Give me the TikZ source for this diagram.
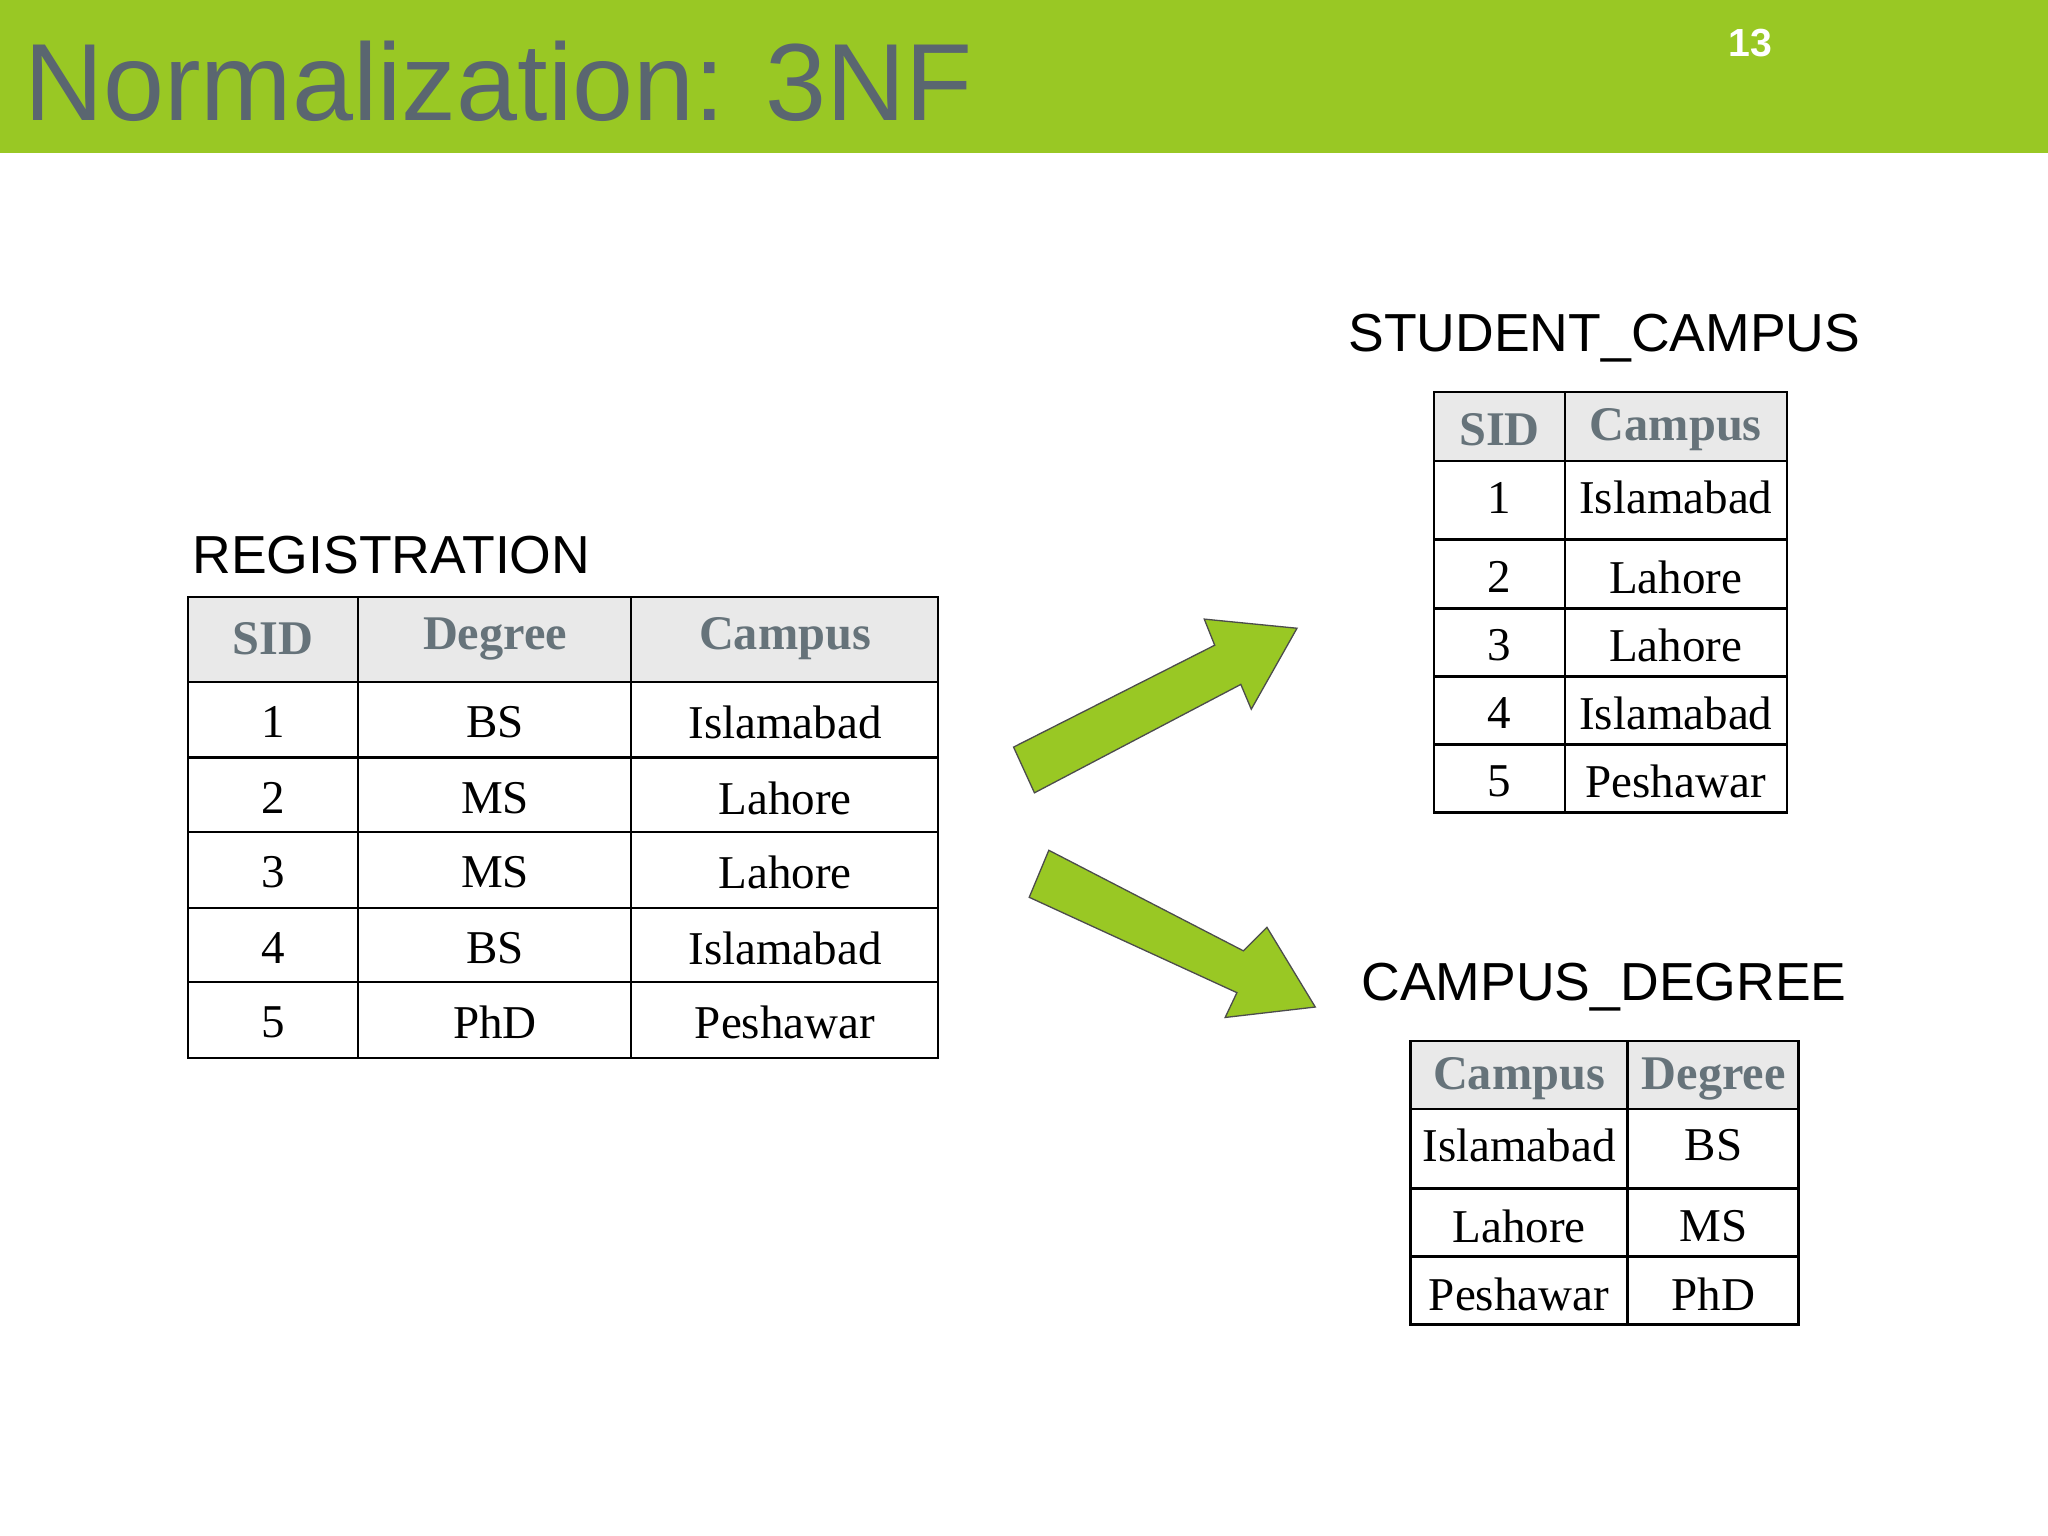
\documentclass[tikz,border=0pt]{standalone}
\usepackage{fontspec}
\setmainfont{Liberation Serif}
\newfontfamily\hsans{Liberation Sans}
\definecolor{bargreen}{HTML}{99C824}
\definecolor{titlegray}{HTML}{5A6670}
\definecolor{headgray}{HTML}{E9E9E9}
\definecolor{headtext}{HTML}{66737A}
\begin{document}
\begin{tikzpicture}[x=0.5pt,y=-0.5pt,
  cell/.style={font=\fontsize{18}{20}\selectfont,anchor=center,inner sep=0},
  hcell/.style={font=\fontsize{18.5}{20}\bfseries\selectfont,text=headtext,anchor=center,inner sep=0},
  ttl/.style={font=\hsans\fontsize{20.5}{22}\selectfont,anchor=base west,inner sep=0},
  grid/.style={draw=black,line width=0.9pt},
  arr/.style={fill=bargreen,draw=black!70,line width=0.5pt}]
\useasboundingbox (0,0) rectangle (1568,1176);
\fill[white] (0,0) rectangle (1568,1176);
\fill[bargreen] (0,0) rectangle (1568,117);
\node[font=\hsans\fontsize{42}{44}\selectfont,text=titlegray,anchor=base west,inner sep=0] (title) at (18,92) {Normalization: 3NF};
\node[font=\hsans\fontsize{15}{16}\bfseries\selectfont,text=white,anchor=center,inner sep=0] (pg) at (1340,33) {13};
% REGISTRATION
\node[ttl] (regt) at (147,439) {REGISTRATION};
\fill[headgray] (144,457) rectangle (718,522);
\draw[grid] (144,457) rectangle (718,810);
\foreach \y in {522,580,637,695,752} \draw[grid] (144,\y) -- (718,\y);
\foreach \x in {274,483} \draw[grid] (\x,457) -- (\x,810);
\node[hcell] (r0a) at (209,489) {SID};
\node[hcell] (r0b) at (379,489) {Degree};
\node[hcell] (r0c) at (601,489) {Campus};
\foreach \i/\y/\d/\c in {1/553/BS/Islamabad,2/611/MS/Lahore,3/668/MS/Lahore,4/726/BS/Islamabad,5/783/PhD/Peshawar}{
  \node[cell] (r\i a) at (209,\y) {\i};
  \node[cell] (r\i b) at (379,\y) {\d};
  \node[cell] (r\i c) at (601,\y) {\c};}
% STUDENT_CAMPUS
\node[ttl] (sct) at (1032,269) {STUDENT\_CAMPUS};
\fill[headgray] (1098,300) rectangle (1368,353);
\draw[grid] (1098,300) rectangle (1368,622);
\foreach \y in {353,413,466,518,570} \draw[grid] (1098,\y) -- (1368,\y);
\draw[grid] (1198,300) -- (1198,622);
\node[hcell] (s0a) at (1148,329) {SID};
\node[hcell] (s0b) at (1283,329) {Campus};
\foreach \i/\y/\c in {1/381/Islamabad,2/442/Lahore,3/494/Lahore,4/546/Islamabad,5/598/Peshawar}{
  \node[cell] (s\i a) at (1148,\y) {\i};
  \node[cell] (s\i b) at (1283,\y) {\c};}
% CAMPUS_DEGREE
\node[ttl] (cdt) at (1042,766) {CAMPUS\_DEGREE};
\fill[headgray] (1080,797) rectangle (1377,849);
\draw[grid] (1080,797) rectangle (1377,1014);
\foreach \y in {849,910,962} \draw[grid] (1080,\y) -- (1377,\y);
\draw[grid] (1246,797) -- (1246,1014);
\node[hcell] (c0a) at (1163,826) {Campus};
\node[hcell] (c0b) at (1312,826) {Degree};
\foreach \i/\y/\c/\d in {1/877/Islamabad/BS,2/939/Lahore/MS,3/991/Peshawar/PhD}{
  \node[cell] (c\i a) at (1163,\y) {\c};
  \node[cell] (c\i b) at (1312,\y) {\d};}
% arrows
\draw[arr] (776,572) -- (930,494) -- (922,474) -- (993,481) -- (958,543) -- (950,524) -- (792,607) -- cycle;
\draw[arr] (803,651) -- (952,728) -- (970,710) -- (1007,771) -- (938,779) -- (947,760) -- (788,687) -- cycle;
\end{tikzpicture}
\end{document}
